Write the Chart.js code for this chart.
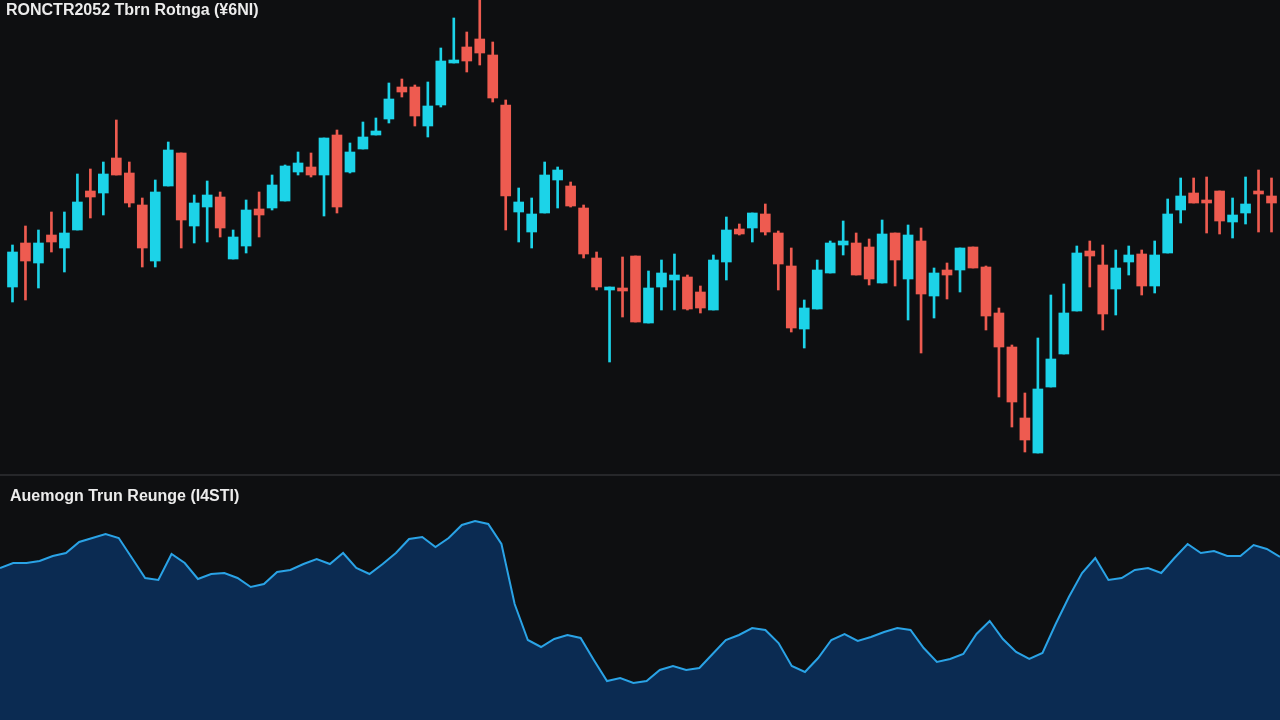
<!DOCTYPE html>
<html>
<head>
<meta charset="utf-8">
<script src="https://cdn.jsdelivr.net/npm/chart.js@4.4.1/dist/chart.umd.min.js"></script>
<style>
  html, body { margin: 0; padding: 0; background: #0e0f11; }
  #wrap { position: relative; width: 1280px; height: 720px; overflow: hidden; }
  #pricePane { position: absolute; left: 0; top: 0; }
  #divider { position: absolute; left: 0; top: 474px; width: 1280px; height: 2px; background: #26272a; }
  #atrPane { position: absolute; left: 0; top: 476px; }
</style>
</head>
<body>
<div id="wrap">
  <canvas id="pricePane" width="1280" height="476"></canvas>
  <div id="divider"></div>
  <canvas id="atrPane" width="1280" height="244"></canvas>
</div>

<script>
// panel captions
const priceTitle = 'RONCTR2052 Tbrn Rotnga (¥6NI)';
const atrTitle = 'Auemogn Trun Reunge (I4STI)';

// OHLC per session
const opens = [
  118.3, 122.7, 120.7, 123.5, 122.2, 124.0, 127.9, 127.7, 131.2, 129.7,
  126.5, 120.9, 128.4, 131.7, 124.4, 126.3, 127.3, 121.1, 122.4, 126.1,
  126.2, 126.9, 129.8, 130.3, 129.5, 133.5, 129.8, 132.1, 133.5, 135.1,
  138.3, 138.3, 134.4, 136.5, 140.7, 142.3, 143.1, 141.5, 136.5, 125.8,
  123.8, 125.7, 129.0, 128.4, 126.2, 121.2, 118.0, 118.2, 121.4, 114.7,
  118.3, 119.0, 119.3, 117.8, 116.0, 120.8, 124.1, 124.2, 125.6, 123.7,
  120.4, 114.1, 116.1, 119.7, 122.5, 122.7, 122.3, 118.7, 123.7, 119.1,
  122.9, 117.4, 120.0, 120.0, 122.3, 120.3, 115.7, 112.3, 105.2, 101.7,
  108.3, 111.6, 115.9, 121.9, 120.5, 118.1, 120.8, 121.6, 118.4, 121.7,
  126.0, 127.7, 127.0, 127.9, 124.8, 125.7, 127.9, 127.4
];
const highs = [
  122.5, 124.4, 124.0, 125.8, 125.8, 129.6, 130.1, 130.8, 135.0, 130.8,
  127.2, 129.0, 132.8, 131.7, 127.5, 128.9, 127.8, 124.0, 127.0, 127.8,
  129.5, 130.5, 131.8, 131.7, 133.2, 134.0, 132.7, 134.8, 135.2, 138.7,
  139.1, 138.5, 138.8, 142.2, 145.2, 143.8, 147.0, 142.8, 137.0, 128.2,
  127.2, 130.8, 130.3, 128.8, 126.5, 121.8, 118.3, 121.3, 121.4, 119.9,
  121.0, 121.6, 119.5, 118.4, 121.5, 125.3, 124.6, 125.7, 126.6, 123.9,
  122.2, 117.0, 121.0, 122.9, 124.9, 123.7, 123.1, 125.0, 123.7, 124.5,
  124.2, 120.2, 120.7, 122.2, 122.3, 120.4, 116.2, 112.5, 107.7, 113.2,
  117.5, 118.6, 122.4, 122.9, 122.5, 122.0, 122.4, 122.0, 122.9, 127.1,
  129.2, 129.2, 129.3, 127.9, 127.2, 129.3, 130.0, 129.2
];
const lows = [
  116.8, 117.0, 118.2, 121.8, 119.8, 124.0, 125.2, 125.5, 129.5, 126.3,
  120.3, 120.3, 128.4, 122.2, 122.7, 122.8, 123.3, 121.1, 121.7, 123.3,
  126.0, 126.9, 129.5, 129.3, 125.4, 125.7, 129.7, 132.1, 133.5, 134.7,
  137.3, 134.4, 133.3, 136.3, 140.7, 139.8, 140.5, 136.8, 124.0, 122.8,
  122.2, 125.7, 126.2, 126.3, 121.2, 118.0, 110.8, 115.3, 114.8, 114.7,
  116.0, 116.0, 116.0, 115.7, 116.0, 119.0, 123.5, 122.8, 123.5, 118.0,
  113.8, 112.2, 116.1, 119.7, 121.5, 119.5, 118.5, 118.7, 118.4, 115.0,
  111.7, 115.2, 117.1, 117.8, 120.2, 114.0, 107.3, 104.3, 101.8, 101.7,
  108.3, 111.6, 115.9, 118.3, 114.0, 115.5, 119.5, 117.5, 117.7, 121.7,
  124.7, 126.7, 123.7, 123.6, 123.2, 124.6, 123.8, 123.8
];
const closes = [
  121.8, 120.9, 122.7, 122.8, 123.7, 126.8, 127.3, 129.6, 129.5, 126.7,
  122.2, 127.8, 132.0, 125.0, 126.7, 127.5, 124.2, 123.3, 126.0, 125.5,
  128.5, 130.4, 130.7, 129.5, 133.2, 126.3, 131.8, 133.3, 133.9, 137.1,
  137.8, 135.4, 136.4, 140.9, 141.0, 140.9, 141.7, 137.2, 127.4, 126.8,
  125.6, 129.5, 130.0, 126.4, 121.6, 118.3, 118.3, 117.9, 114.8, 118.2,
  119.7, 119.5, 116.1, 116.2, 121.0, 124.0, 123.6, 125.7, 123.8, 120.6,
  114.2, 116.2, 120.0, 122.7, 122.9, 119.5, 119.1, 123.6, 121.0, 123.5,
  117.6, 119.7, 119.5, 122.2, 120.2, 115.4, 112.3, 106.8, 103.0, 108.1,
  111.1, 115.7, 121.7, 121.4, 115.6, 120.2, 121.5, 118.4, 121.5, 125.6,
  127.4, 126.7, 126.7, 124.9, 125.5, 126.6, 127.6, 126.7
];

// average true range line under the candles
const atrValues = [
  3.04, 3.14, 3.14, 3.18, 3.28, 3.34, 3.56, 3.64, 3.72, 3.64,
  3.24, 2.84, 2.80, 3.32, 3.14, 2.82, 2.92, 2.94, 2.84, 2.66,
  2.72, 2.96, 3.00, 3.12, 3.22, 3.12, 3.34, 3.04, 2.92, 3.12,
  3.34, 3.62, 3.66, 3.46, 3.64, 3.90, 3.98, 3.92, 3.52, 2.32,
  1.60, 1.46, 1.62, 1.70, 1.64, 1.20, 0.78, 0.84, 0.74, 0.78,
  1.00, 1.08, 1.00, 1.04, 1.32, 1.60, 1.70, 1.84, 1.80, 1.54,
  1.08, 0.96, 1.24, 1.60, 1.72, 1.58, 1.66, 1.76, 1.84, 1.80,
  1.44, 1.16, 1.22, 1.32, 1.72, 1.98, 1.62, 1.36, 1.22, 1.34,
  1.92, 2.46, 2.94, 3.24, 2.80, 2.84, 3.00, 3.04, 2.94, 3.24,
  3.52, 3.34, 3.38, 3.28, 3.28, 3.50, 3.42, 3.26
];

const sessions = opens.map((_, i) => 'S' + (i + 1));

const UP = '#1cd3e8';
const DOWN = '#ee5b50';

const candleColors = opens.map((o, i) => closes[i] >= opens[i] ? UP : DOWN);
const bodies = opens.map((o, i) => [o, closes[i]]);
const wicks = lows.map((l, i) => [l, highs[i]]);

// draws a small caption in the top-left of a pane
const captionPlugin = {
  id: 'caption',
  afterDraw(chart, args, opts) {
    const ctx = chart.ctx;
    ctx.save();
    ctx.font = opts.font;
    ctx.fillStyle = opts.color;
    ctx.textBaseline = 'middle';
    ctx.fillText(opts.text, opts.x, opts.y);
    ctx.restore();
  }
};

new Chart(document.getElementById('pricePane'), {
  type: 'bar',
  data: {
    labels: sessions,
    datasets: [
      { data: wicks, backgroundColor: candleColors, barThickness: 2, grouped: false, order: 2 },
      { data: bodies, backgroundColor: candleColors, barThickness: 10, grouped: false, order: 1 }
    ]
  },
  options: {
    responsive: false,
    animation: false,
    devicePixelRatio: 1,
    layout: { padding: { left: 6, right: 2, top: 0, bottom: 0 } },
    plugins: {
      legend: { display: false },
      tooltip: { enabled: false },
      caption: { text: priceTitle, font: 'bold 16px "Liberation Sans"', color: '#ececec', x: 6, y: 11 }
    },
    scales: {
      x: { display: false, offset: true },
      y: { display: false, min: 99.4, max: 147 }
    }
  },
  plugins: [captionPlugin]
});

new Chart(document.getElementById('atrPane'), {
  type: 'line',
  data: {
    labels: sessions,
    datasets: [{
      data: atrValues,
      borderColor: '#2aa3e6',
      borderWidth: 2,
      backgroundColor: '#0b2b52',
      fill: 'origin',
      pointRadius: 0,
      tension: 0
    }]
  },
  options: {
    responsive: false,
    animation: false,
    devicePixelRatio: 1,
    layout: { padding: 0 },
    plugins: {
      legend: { display: false },
      tooltip: { enabled: false },
      caption: { text: atrTitle, font: 'bold 16px "Liberation Sans"', color: '#ececec', x: 10, y: 21 }
    },
    scales: {
      x: { display: false, offset: false },
      y: { display: false, min: 0, max: 4.88 }
    }
  },
  plugins: [captionPlugin]
});
</script>
</body>
</html>
